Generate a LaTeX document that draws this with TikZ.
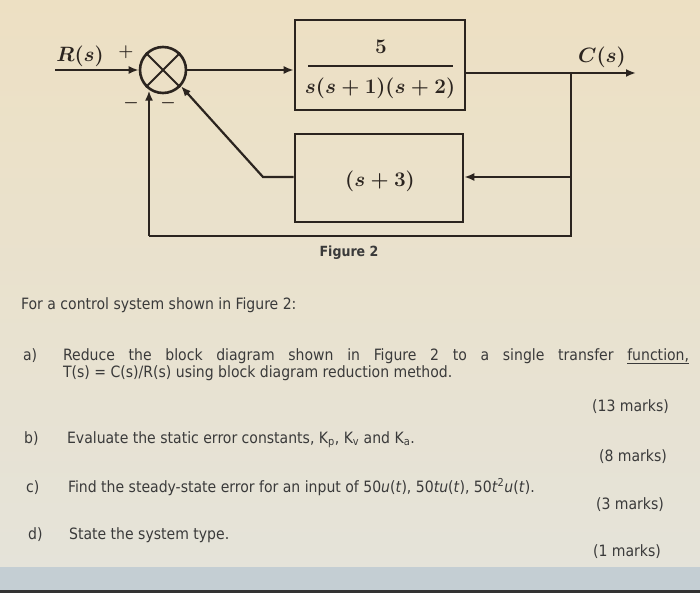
\documentclass[tikz,border=0pt]{standalone}
\usepackage{fontspec}
\setsansfont{DejaVu Sans Condensed}
\usetikzlibrary{arrows.meta}
\definecolor{bgtop}{HTML}{EDE0C3}
\definecolor{bgbot}{HTML}{E5E3D9}
\definecolor{band}{HTML}{C4CED3}
\definecolor{ink}{HTML}{2B241F}
\definecolor{txt}{HTML}{3A3A3A}
\begin{document}
\begin{tikzpicture}[x=1pt, y=-1pt,
		line width=2.2pt, draw=ink, >={Latex[length=10pt,width=8pt]},
		blk/.style={draw=ink, line width=2.6pt, inner sep=0pt},
		sym/.style={text=ink, font=\fontsize{20}{24}\selectfont\boldmath},
		tf/.style={text=ink, font=\fontsize{21}{25}\selectfont\boldmath},
		body/.style={text=txt, inner sep=0pt, font=\sffamily\fontsize{15.6}{17}\selectfont},
		marks/.style={body, anchor=base east}]
		\useasboundingbox (0,0) rectangle (700,593);
		% background of the photo
		\shade [top color=bgtop, bottom color=bgbot] (0,0) rectangle (700,567);
		\fill [band] (0,567) rectangle (700,590);
		\fill [black!80] (0,590) rectangle (700,593);
		
		% block diagram
		\node [blk, circle, minimum size=46pt] (sum) at (163,70) {};
		\draw [ink, line width=1.9pt] (sum.45) -- (sum.-135) (sum.135) -- (sum.-45);
		\node [blk, minimum width=170pt, minimum height=90pt] (fwd) at (380,65) {};
		\node [tf] (num) at (381,47) {$5$};
		\node [tf] (den) at (380,88) {$s(s+1)(s+2)$};
		\draw [line width=1.6pt] (308,66) -- (453,66);
		\node [blk, minimum width=168pt, minimum height=88pt] (fb) at (379,178) {};
		\node [tf] (fbtf) at (380,181) {$(s+3)$};
		\coordinate (in) at (55,70);
		\coordinate (br) at (571,73);
		\coordinate (out) at (636,73);
		\coordinate (knee) at (263,177);
		\coordinate (low) at (149,236);
		\draw [->] (in) -- (sum.west);
		\draw [->] (sum.east) -- (sum.east -| fwd.west);
		\draw [->] (fwd.east |- br) -- (out);
		\draw [->] (br) |- (fb.east |- knee);
		\draw (br) |- (low);
		\draw [->] (low) -- (low |- sum.-122);
		\draw [->] (fb.west |- knee) -- (knee) -- (sum.-42);
		\node [sym, anchor=base] (rlab) at (80,62) {$R(s)$};
		\node [sym, anchor=base] (clab) at (602,63) {$C(s)$};
		\node [sym, font=\fontsize{18}{20}\selectfont\boldmath] (plus) at (126,52) {$+$};
		\node [sym, font=\fontsize{18}{20}\selectfont\boldmath] (mina) at (131,103) {$-$};
		\node [sym, font=\fontsize{18}{20}\selectfont\boldmath] (minb) at (168,103) {$-$};
		\node [body, anchor=base, font=\sffamily\bfseries\fontsize{14}{16}\selectfont] (figcap) at (349,257) {Figure 2};
		
		% questions
		\node [body, anchor=base west] (intro) at (20,309) {For a control system shown in Figure 2:};
		\node [body, anchor=base west] (qa) at (22,360) {a)};
		\node [body, anchor=base west, text width=626pt, align=justify] (ta) at (62,360)
			{Reduce the block diagram shown in Figure 2 to a single transfer \underline{function,}\linebreak
			T(s) = C(s)/R(s) using block diagram reduction method.};
		\node [marks] (ma) at (670,411) {(13 marks)};
		\node [body, anchor=base west] (qb) at (23,443) {b)};
		\node [body, anchor=base west] (tb) at (66,443) {Evaluate the static error constants, K\textsubscript{p}, K\textsubscript{v} and K\textsubscript{a}.};
		\node [marks] (mb) at (668,461) {(8 marks)};
		\node [body, anchor=base west] (qc) at (25,492) {c)};
		\node [body, anchor=base west] (tc) at (67,492) {Find the steady-state error for an input of 50\textit{u}(\textit{t}), 50\textit{tu}(\textit{t}), 50\textit{t}\textsuperscript{2}\textit{u}(\textit{t}).};
		\node [marks] (mc) at (665,509) {(3 marks)};
		\node [body, anchor=base west] (qd) at (27,539) {d)};
		\node [body, anchor=base west] (td) at (68,539) {State the system type.};
		\node [marks] (md) at (662,556) {(1 marks)};
		
		\end{tikzpicture}
\end{document}
